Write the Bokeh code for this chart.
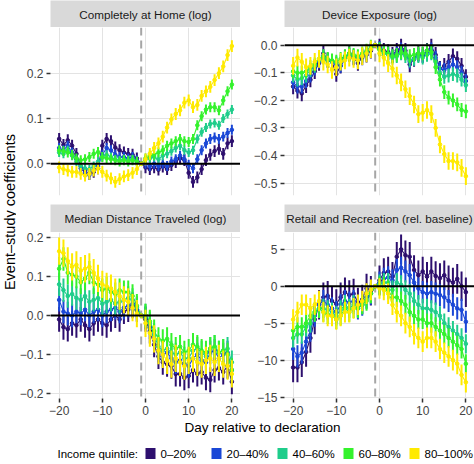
import math

from bokeh.core.properties import value
from bokeh.embed import file_html
from bokeh.layouts import column, row
from bokeh.models import (ColumnDataSource, CustomJSTickFormatter, FixedTicker,
                          Label, Range1d, Span)
from bokeh.plotting import figure
from bokeh.resources import INLINE

FONT = "Liberation Sans"

# ---------------------------------------------------------------- data
days = list(range(-20, 21))
quintiles = ["0–20%", "20–40%", "40–60%", "60–80%", "80–100%"]
colors = ["#2d0f6e", "#1a47d6", "#1fcd8b", "#34f22c", "#ffea00"]

# Completely at Home (log)
home_q1 = [0.055, 0.042, 0.052, 0.040, 0.022, -0.005, -0.015, -0.022, -0.018, -0.010,
           0.040, 0.055, 0.050, 0.036, 0.030, 0.025, 0.022, 0.020, 0.012, 0.0,
           -0.008, -0.012, -0.008, -0.013, -0.006, -0.012, -0.003, 0.004, 0.012, 0.008,
           -0.020, -0.040, -0.030, -0.012, 0.008, 0.020, 0.028, 0.033, 0.022, 0.045, 0.050]
home_q2 = [0.035, 0.030, 0.040, 0.025, 0.010, -0.010, -0.020, -0.025, -0.015, -0.005,
           0.020, 0.035, 0.030, 0.020, 0.015, 0.015, 0.012, 0.015, 0.008, 0.0,
           0.000, -0.005, 0.000, -0.005, 0.000, -0.005, 0.005, 0.010, 0.018, 0.010,
           -0.002, -0.010, 0.010, 0.030, 0.045, 0.055, 0.058, 0.055, 0.060, 0.068, 0.075]
home_q3 = [0.025, 0.022, 0.030, 0.018, 0.005, -0.005, -0.010, -0.012, -0.005, 0.005,
           0.015, 0.020, 0.015, 0.010, 0.008, 0.010, 0.008, 0.010, 0.005, 0.0,
           0.010, 0.012, 0.015, 0.010, 0.018, 0.022, 0.028, 0.035, 0.040, 0.030,
           0.025, 0.030, 0.055, 0.070, 0.080, 0.088, 0.090, 0.085, 0.100, 0.110, 0.120]
home_q4 = [0.030, 0.028, 0.025, 0.020, 0.012, 0.008, 0.010, 0.015, 0.022, 0.026,
           0.015, 0.012, 0.010, 0.008, 0.005, 0.008, 0.005, 0.008, 0.005, 0.0,
           0.012, 0.018, 0.020, 0.025, 0.030, 0.040, 0.045, 0.050, 0.055, 0.050,
           0.048, 0.055, 0.085, 0.105, 0.120, 0.125, 0.125, 0.118, 0.140, 0.160, 0.175]
home_q5 = [-0.008, -0.012, -0.015, -0.018, -0.018, -0.022, -0.026, -0.022, -0.015, -0.010,
           -0.018, -0.026, -0.032, -0.040, -0.034, -0.028, -0.025, -0.020, -0.012, 0.0,
           0.010, 0.022, 0.035, 0.045, 0.060, 0.080, 0.098, 0.110, 0.118, 0.135,
           0.140, 0.125, 0.130, 0.150, 0.160, 0.170, 0.185, 0.200, 0.215, 0.240, 0.260]
home_ci = [0.013, 0.011, 0.010, 0.011, 0.013]

# Device Exposure (log)
device_q1 = [-0.150, -0.165, -0.175, -0.145, -0.125, -0.095, -0.065, -0.030, -0.055, -0.060,
             -0.105, -0.075, -0.045, -0.030, -0.045, -0.065, -0.045, -0.035, -0.020, 0.0,
             -0.005, -0.020, -0.025, -0.035, -0.020, -0.005, -0.020, -0.070, -0.050, -0.030,
             -0.035, -0.020, -0.005, -0.035, -0.085, -0.075, -0.060, -0.040, -0.050, -0.075, -0.115]
device_q2 = [-0.135, -0.150, -0.150, -0.130, -0.110, -0.085, -0.060, -0.040, -0.055, -0.060,
             -0.070, -0.075, -0.050, -0.035, -0.045, -0.055, -0.040, -0.030, -0.015, 0.0,
             -0.010, -0.025, -0.030, -0.040, -0.030, -0.015, -0.030, -0.060, -0.050, -0.035,
             -0.040, -0.025, -0.015, -0.045, -0.085, -0.090, -0.080, -0.070, -0.080, -0.100, -0.130]
device_q3 = [-0.110, -0.125, -0.120, -0.110, -0.090, -0.075, -0.055, -0.045, -0.055, -0.060,
             -0.065, -0.060, -0.045, -0.035, -0.040, -0.045, -0.035, -0.025, -0.010, 0.0,
             -0.015, -0.030, -0.035, -0.045, -0.040, -0.030, -0.040, -0.055, -0.050, -0.040,
             -0.045, -0.035, -0.030, -0.060, -0.100, -0.115, -0.110, -0.105, -0.110, -0.125, -0.145]
device_q4 = [-0.095, -0.100, -0.100, -0.095, -0.080, -0.070, -0.050, -0.040, -0.050, -0.055,
             -0.060, -0.050, -0.040, -0.030, -0.035, -0.040, -0.030, -0.020, -0.005, 0.0,
             -0.015, -0.025, -0.030, -0.040, -0.035, -0.025, -0.030, -0.040, -0.035, -0.030,
             -0.030, -0.020, -0.025, -0.080, -0.125, -0.170, -0.190, -0.200, -0.215, -0.235, -0.240]
device_q5 = [-0.075, -0.045, -0.060, -0.080, -0.075, -0.060, -0.050, -0.060, -0.070, -0.090,
             -0.080, -0.060, -0.055, -0.045, -0.050, -0.055, -0.040, -0.030, -0.015, 0.0,
             -0.030, -0.045, -0.065, -0.085, -0.110, -0.135, -0.160, -0.185, -0.215, -0.250,
             -0.245, -0.235, -0.250, -0.300, -0.360, -0.395, -0.420, -0.420, -0.425, -0.445, -0.475]
device_ci = [0.028, 0.025, 0.025, 0.025, 0.032]

# Median Distance Traveled (log)
distance_q1 = [-0.010, -0.030, -0.035, -0.020, -0.025, -0.010, -0.025, -0.035, -0.020, -0.010,
               -0.020, -0.025, -0.010, 0.000, -0.010, 0.010, 0.015, 0.025, 0.015, 0.0,
               -0.010, -0.040, -0.075, -0.105, -0.120, -0.125, -0.130, -0.150, -0.150, -0.160,
               -0.155, -0.140, -0.150, -0.145, -0.160, -0.165, -0.140, -0.135, -0.145, -0.130, -0.170]
distance_q2 = [0.040, 0.010, 0.005, 0.000, 0.010, 0.005, 0.015, 0.000, 0.010, 0.015,
               0.000, 0.010, 0.015, 0.020, 0.010, 0.020, 0.025, 0.030, 0.015, 0.0,
               -0.005, -0.030, -0.060, -0.090, -0.100, -0.095, -0.110, -0.120, -0.115, -0.125,
               -0.130, -0.110, -0.100, -0.115, -0.120, -0.095, -0.090, -0.110, -0.100, -0.095, -0.140]
distance_q3 = [0.080, 0.065, 0.050, 0.055, 0.045, 0.040, 0.050, 0.035, 0.040, 0.045,
               0.030, 0.035, 0.040, 0.030, 0.035, 0.040, 0.045, 0.040, 0.020, 0.0,
               0.000, -0.020, -0.050, -0.080, -0.090, -0.085, -0.095, -0.100, -0.095, -0.110,
               -0.110, -0.090, -0.085, -0.095, -0.105, -0.085, -0.080, -0.095, -0.090, -0.085, -0.120]
distance_q4 = [0.120, 0.145, 0.110, 0.105, 0.100, 0.085, 0.095, 0.110, 0.085, 0.080,
               0.065, 0.070, 0.060, 0.055, 0.065, 0.060, 0.060, 0.050, 0.025, 0.0,
               0.000, -0.015, -0.040, -0.060, -0.065, -0.060, -0.075, -0.085, -0.080, -0.095,
               -0.090, -0.075, -0.080, -0.090, -0.095, -0.085, -0.080, -0.095, -0.090, -0.100, -0.140]
distance_q5 = [0.165, 0.160, 0.140, 0.125, 0.130, 0.115, 0.120, 0.125, 0.110, 0.095,
               0.080, 0.075, 0.070, 0.060, 0.050, 0.040, 0.035, 0.020, 0.005, 0.0,
               -0.020, -0.045, -0.060, -0.090, -0.100, -0.115, -0.125, -0.110, -0.120, -0.130,
               -0.115, -0.110, -0.120, -0.125, -0.115, -0.110, -0.120, -0.110, -0.125, -0.130, -0.150]
distance_ci = [0.032, 0.030, 0.030, 0.030, 0.035]

# Retail and Recreation (rel. baseline)
retail_q1 = [-11.0, -11.0, -10.3, -8.9, -7.0, -4.5, -2.5, -1.5, -1.3, -2.0,
             -2.4, -1.5, -0.8, -1.2, -1.0, -2.2, -1.8, -0.3, -0.6, 0.0,
             0.8, 1.8, 2.0, 1.3, 4.0, 5.0, 4.2, 4.0, 2.2, 1.5,
             2.0, 1.3, 2.0, 1.4, 1.1, 1.5, 0.8, 0.5, 1.0, 0.0, -0.8]
retail_q2 = [-8.5, -9.5, -9.0, -7.5, -6.0, -4.0, -2.5, -2.0, -2.5, -3.0,
             -3.5, -2.5, -2.0, -2.2, -2.0, -3.0, -2.5, -1.5, -1.0, 0.0,
             0.5, 1.0, 1.2, 0.8, 2.2, 2.5, 2.0, 1.5, 0.5, -0.3,
             -0.8, -1.0, -0.8, -1.0, -1.2, -1.5, -2.0, -2.5, -3.0, -3.2, -4.8]
retail_q3 = [-7.0, -6.5, -6.5, -5.5, -5.0, -3.5, -3.0, -3.0, -3.2, -3.5,
             -4.0, -3.2, -2.5, -3.0, -2.5, -3.0, -2.5, -1.8, -1.0, 0.0,
             0.3, 0.5, 0.5, -0.5, 0.5, 0.2, -0.5, -1.0, -2.0, -2.5,
             -3.0, -3.0, -3.2, -3.5, -4.0, -5.0, -5.5, -6.0, -6.5, -7.0, -7.8]
retail_q4 = [-6.0, -5.5, -5.5, -5.0, -4.0, -3.5, -3.0, -3.5, -3.8, -4.0,
             -4.5, -4.0, -3.0, -3.5, -3.0, -3.0, -2.5, -2.0, -1.0, 0.0,
             0.0, 0.0, -0.5, -1.5, -1.5, -2.0, -2.5, -3.5, -4.0, -4.5,
             -4.5, -5.0, -5.0, -5.5, -6.0, -6.5, -7.0, -7.5, -8.0, -8.5, -10.5]
retail_q5 = [-4.5, -3.5, -2.5, -2.5, -3.0, -2.5, -2.0, -3.5, -4.0, -4.0,
             -4.5, -4.0, -3.5, -3.5, -3.0, -2.5, -2.0, -1.0, -0.5, 0.0,
             -0.3, -0.5, -1.0, -2.5, -3.5, -4.0, -5.0, -5.5, -6.5, -7.0,
             -7.5, -7.0, -7.0, -7.5, -8.5, -9.0, -9.5, -10.0, -10.5, -12.0, -13.0]
retail_ci = [2.0, 1.5, 1.3, 1.3, 1.4]

x_ticks = [-20, -10, 0, 10, 20]
home_ticks = [0.0, 0.1, 0.2]
device_ticks = [0.0, -0.1, -0.2, -0.3, -0.4, -0.5]
distance_ticks = [-0.2, -0.1, 0.0, 0.1, 0.2]
retail_ticks = [5, 0, -5, -10, -15]
declaration_day = -1

# ---------------------------------------------------------------- styling
GRID = "#e3e3e3"
TICK_TEXT = "#444444"
FRAME_W = 190


def minus_formatter(decimals):
    return CustomJSTickFormatter(
        code="return tick.toFixed(%d).replace('-', '\\u2212');" % decimals)


def style_axis(axis, ticks, decimals):
    axis.ticker = FixedTicker(ticks=ticks)
    axis.formatter = minus_formatter(decimals)
    axis.axis_line_color = None
    axis.major_tick_in = 0
    axis.major_tick_out = 4
    axis.minor_tick_in = 0
    axis.minor_tick_out = 0
    axis.major_tick_line_color = "#333333"
    axis.major_tick_line_width = 1.5
    axis.major_label_standoff = 3
    axis.major_label_text_font = FONT
    axis.major_label_text_font_size = "12px"
    axis.major_label_text_color = TICK_TEXT


def strip(title, border_left, height):
    s = figure(width=border_left + FRAME_W, height=height,
               x_range=Range1d(0, 1), y_range=Range1d(0, 1),
               x_axis_type=None, y_axis_type=None,
               output_backend="svg", toolbar_location=None,
               min_border_left=border_left, min_border_right=0,
               min_border_top=0, min_border_bottom=0)
    s.background_fill_color = "#d9d9d9"
    s.outline_line_color = None
    s.add_layout(Label(x=0.5, y=0.5, text=title, text_align="center",
                       text_baseline="middle", text_font=FONT,
                       text_font_size="11.7px", text_color="#1a1a1a"))
    return s


def panel(series, ci, y_lo, y_hi, y_ticks, decimals, border_left,
          frame_h, border_bottom, show_x):
    p = figure(width=border_left + FRAME_W, height=frame_h + border_bottom,
               x_range=Range1d(-22, 22), y_range=Range1d(y_lo, y_hi),
               output_backend="svg", toolbar_location=None,
               min_border_left=border_left, min_border_right=0,
               min_border_top=0, min_border_bottom=border_bottom)
    p.outline_line_color = None
    p.background_fill_color = "white"
    p.border_fill_color = "white"

    p.xgrid.ticker = FixedTicker(ticks=x_ticks)
    p.ygrid.ticker = FixedTicker(ticks=y_ticks)
    for g in (p.xgrid, p.ygrid):
        g.grid_line_color = GRID
        g.grid_line_width = 1
        g.minor_grid_line_color = None

    style_axis(p.yaxis[0], y_ticks, decimals)
    style_axis(p.xaxis[0], x_ticks, 0)
    p.xaxis.visible = show_x

    p.add_layout(Span(location=declaration_day, dimension="height",
                      line_color="#a6a6a6", line_width=2,
                      line_dash="8 5", level="underlay"))

    for vals, c in zip(series, colors):
        p.line(days, vals, line_color=c, line_width=1.1)
    for vals, half, c in zip(series, ci, colors):
        lo = [v - half if d != declaration_day else v for d, v in zip(days, vals)]
        hi = [v + half if d != declaration_day else v for d, v in zip(days, vals)]
        p.segment(x0=days, y0=lo, x1=days, y1=hi, line_color=c, line_width=2)
        p.scatter(days, vals, size=3.6, fill_color=c, line_color=c)

    p.add_layout(Span(location=0, dimension="width", line_color="black",
                      line_width=2))
    return p


TOP_FRAME, BOT_FRAME = 168, 166
LEFT1, LEFT2 = 34, 44

s1 = strip("Completely at Home (log)", LEFT1, 27)
s2 = strip("Device Exposure (log)", LEFT2, 27)
s3 = strip("Median Distance Traveled (log)", LEFT1, 28)
s4 = strip("Retail and Recreation (rel. baseline)", LEFT2, 28)

p1 = panel([home_q1, home_q2, home_q3, home_q4, home_q5], home_ci,
           -0.070, 0.301, home_ticks, 1, LEFT1, TOP_FRAME, 9, False)
p2 = panel([device_q1, device_q2, device_q3, device_q4, device_q5], device_ci,
           -0.545, 0.064, device_ticks, 1, LEFT2, TOP_FRAME, 9, False)
p3 = panel([distance_q1, distance_q2, distance_q3, distance_q4, distance_q5],
           distance_ci, -0.213, 0.213, distance_ticks, 1, LEFT1, BOT_FRAME, 22, True)
p4 = panel([retail_q1, retail_q2, retail_q3, retail_q4, retail_q5], retail_ci,
           -15.2, 7.28, retail_ticks, 0, LEFT2, BOT_FRAME, 22, True)

grid = column(row(s1, s2), row(p1, p2), row(s3, s4), row(p3, p4))

# shared y-axis title
ytitle = figure(width=16, height=420, x_range=Range1d(0, 16),
                y_range=Range1d(0, 420), x_axis_type=None, y_axis_type=None,
                output_backend="svg", toolbar_location=None, min_border=0)
ytitle.outline_line_color = None
ytitle.add_layout(Label(x=9, y=208.5, text="Event–study coefficients",
                        angle=math.pi / 2, text_align="center",
                        text_baseline="middle", text_font=FONT,
                        text_font_size="14.5px", text_color="black"))

# x-axis title and the colour key, laid out in pixel units
bottom = figure(width=474, height=44, x_range=Range1d(0, 474),
                y_range=Range1d(0, 44), x_axis_type=None, y_axis_type=None,
                output_backend="svg", toolbar_location=None, min_border=0)
bottom.outline_line_color = None
bottom.add_layout(Label(x=262, y=37, text="Day relative to declaration",
                        text_align="center", text_baseline="middle",
                        text_font=FONT, text_font_size="13.5px",
                        text_color="black"))
bottom.add_layout(Label(x=57, y=11, text="Income quintile:",
                        text_align="left", text_baseline="middle",
                        text_font=FONT, text_font_size="11.5px",
                        text_color="black"))

KEY_START, KEY_PITCH, KEY_Y = 150, 66, 11
key_src = ColumnDataSource(dict(
    x=[KEY_START + KEY_PITCH * i for i in range(len(quintiles))],
    lx=[KEY_START + KEY_PITCH * i + 10 for i in range(len(quintiles))],
    y=[KEY_Y] * len(quintiles),
    color=colors,
    label=quintiles,
))
bottom.rect(x="x", y="y", width=10, height=11, fill_color="color",
            line_color=None, source=key_src)
bottom.text(x="lx", y="y", text="label", source=key_src,
            text_font=value(FONT), text_font_size=value("11.5px"),
            text_align="left", text_baseline="middle", text_color="black")

page = column(row(ytitle, grid), bottom)

open("out.html", "w").write(file_html(page, INLINE))
